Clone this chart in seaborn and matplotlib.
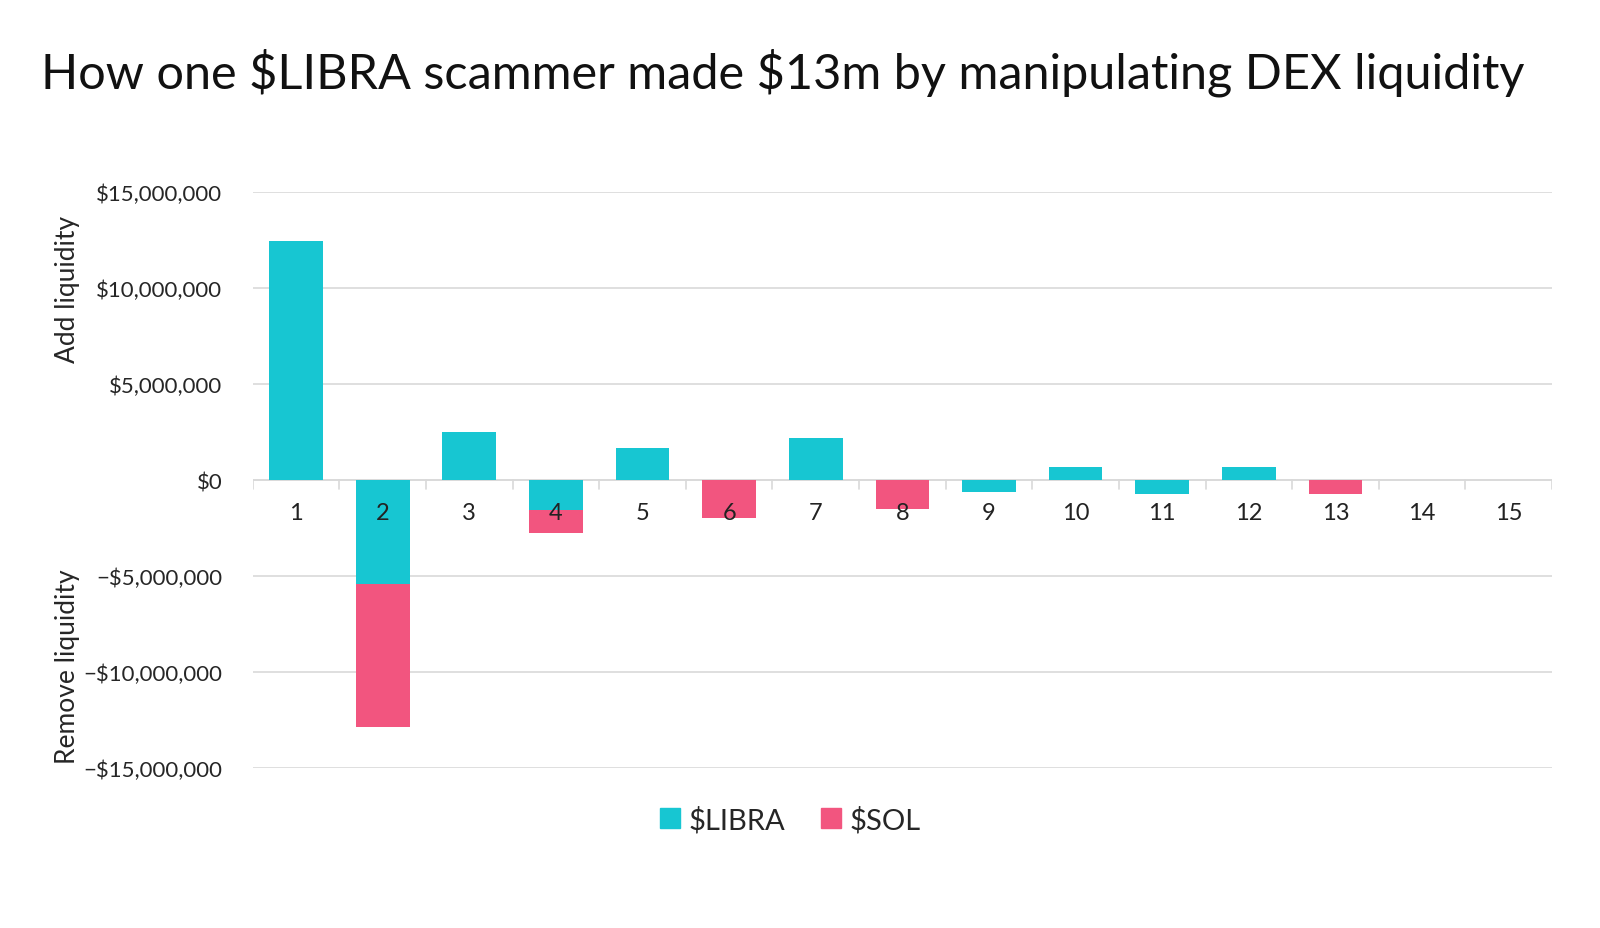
import matplotlib
matplotlib.use("Agg")
import matplotlib.pyplot as plt
import seaborn as sns
import pandas as pd
import numpy as np

categories = [str(i) for i in range(1, 16)]
libra = [12.45e6, -5.42e6, 2.5e6, -1.56e6, 1.67e6, 0, 2.19e6, 0, -0.62e6, 0.68e6, -0.73e6, 0.68e6, 0, 0, 0]
sol = [0, -7.45e6, 0, -1.2e6, 0, -1.98e6, 0, -1.5e6, 0, 0, 0, 0, -0.73e6, 0, 0]
yticks = [-15e6, -10e6, -5e6, 0, 5e6, 10e6, 15e6]
ytick_labels = ["−$15,000,000", "−$10,000,000", "−$5,000,000", "$0", "$5,000,000", "$10,000,000", "$15,000,000"]

sns.set_theme(style="white")
plt.rcParams['font.family'] = ['Lato', 'DejaVu Sans']
plt.rcParams['text.parse_math'] = False
TEAL = "#17C6D2"
PINK = "#F2557F"

fig = plt.figure(figsize=(16, 9.29), dpi=100)
ax = fig.add_axes([0.158, 0.172, 0.812, 0.62])

df = pd.DataFrame({"x": categories, "libra": libra, "sol": sol})
sns.barplot(data=df, x="x", y="libra", color=TEAL, width=0.62, saturation=1, ax=ax, zorder=3, linewidth=0)
bottoms = np.minimum(np.array(libra), 0)
ax.bar(np.arange(len(categories)), sol, bottom=bottoms, width=0.62, color=PINK, zorder=3, linewidth=0)

ax.set_ylim(-15e6, 15e6)
ax.set_xlim(-0.5, 14.5)
ax.set_yticks(yticks)
ax.set_yticklabels(ytick_labels, fontsize=16)
ax.tick_params(axis='y', length=0, pad=22)
ax.set_xticks([])
ax.set_xlabel("")
ax.set_ylabel("")
ax.grid(axis='y', color="#d9d9d9", linewidth=1.2, zorder=0)
for s in ax.spines.values():
    s.set_visible(False)
ax.axhline(0, color="#d9d9d9", linewidth=1.2, zorder=2)
for b in np.arange(-0.5, 15, 1):
    ax.plot([b, b], [0, -0.45e6], color="#d9d9d9", linewidth=1.2, zorder=2)
for i, c in enumerate(categories):
    ax.text(i, -1.67e6, c, ha="center", va="center", fontsize=17, color="#222222", zorder=4)

fig.text(0.042, 0.688, "Add liquidity", rotation=90, ha="center", va="center", fontsize=19)
fig.text(0.042, 0.282, "Remove liquidity", rotation=90, ha="center", va="center", fontsize=19)
fig.text(0.489, 0.922, "How one $LIBRA scammer made $13m by manipulating DEX liquidity",
         ha="center", va="center", fontsize=35, color="#111111")

from matplotlib.patches import Patch
fig.legend(handles=[Patch(color=TEAL, label="$LIBRA"), Patch(color=PINK, label="$SOL")],
           loc="center", bbox_to_anchor=(0.494, 0.117), ncol=2, frameon=False, fontsize=21,
           handlelength=0.7, handleheight=0.7, handletextpad=0.3, columnspacing=1.2)

fig.savefig("out.png", dpi=100, facecolor="white")
